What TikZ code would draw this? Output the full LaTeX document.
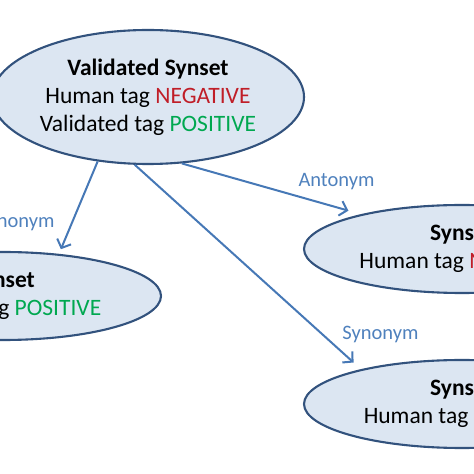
\documentclass[tikz,border=0pt]{standalone}
\usepackage{fontspec}
\setmainfont{Carlito}
\usepackage{xcolor}
\usetikzlibrary{arrows.meta,shapes.geometric}

\definecolor{synfill}{RGB}{220,230,242}
\definecolor{syndraw}{RGB}{50,82,125}
\definecolor{relblue}{RGB}{70,120,182}
\definecolor{lblblue}{RGB}{79,129,189}
\definecolor{tagred}{RGB}{192,30,40}
\definecolor{taggreen}{RGB}{0,168,80}

\begin{document}
\begin{tikzpicture}[
  x=1pt, y=1pt,
  >={Straight Barb[length=7pt,width=15pt]},
  syn/.style={ellipse, draw=syndraw, fill=synfill, line width=2.1pt, inner sep=0pt, align=center,
              font=\fontsize{23.5}{28}\selectfont, minimum width=316pt, minimum height=88pt},
  rel/.style={->, line width=2pt, relblue},
  lbl/.style={font=\fontsize{20.5}{24}\selectfont, text=lblblue, inner sep=0pt},
]
  \clip (0,0) rectangle (474,474);
  % ---------------- synsets ----------------
  \node[syn, minimum width=312pt, minimum height=134pt] (val) at (148,377)
    {\textbf{Validated Synset}\\ Human tag \textcolor{tagred}{NEGATIVE}\\ Validated tag \textcolor{taggreen}{POSITIVE}};
  \node[syn] (left) at (3,178) {\textbf{Synset}\\ Human tag \textcolor{taggreen}{POSITIVE}};
  \node[syn] (neg) at (462,225) {\textbf{Synset}\\ Human tag \textcolor{tagred}{NEGATIVE}};
  \node[syn] (pos) at (462,70) {\textbf{Synset}\\ Human tag \textcolor{taggreen}{POSITIVE}};

  % ---------------- relations ----------------
  \draw[rel, shorten >=5pt] (val.232) -- (left.37);
  \draw[rel, shorten >=13pt] (val.297) -- (neg.161);
  \draw[rel, shorten >=10pt] (val.259) -- (pos.161);
  \node[lbl] (synl) at (16.5,251) {Synonym};
  \node[lbl] (ant) at (336.5,292) {Antonym};
  \node[lbl] (synr) at (380.5,139) {Synonym};
\end{tikzpicture}
\end{document}
